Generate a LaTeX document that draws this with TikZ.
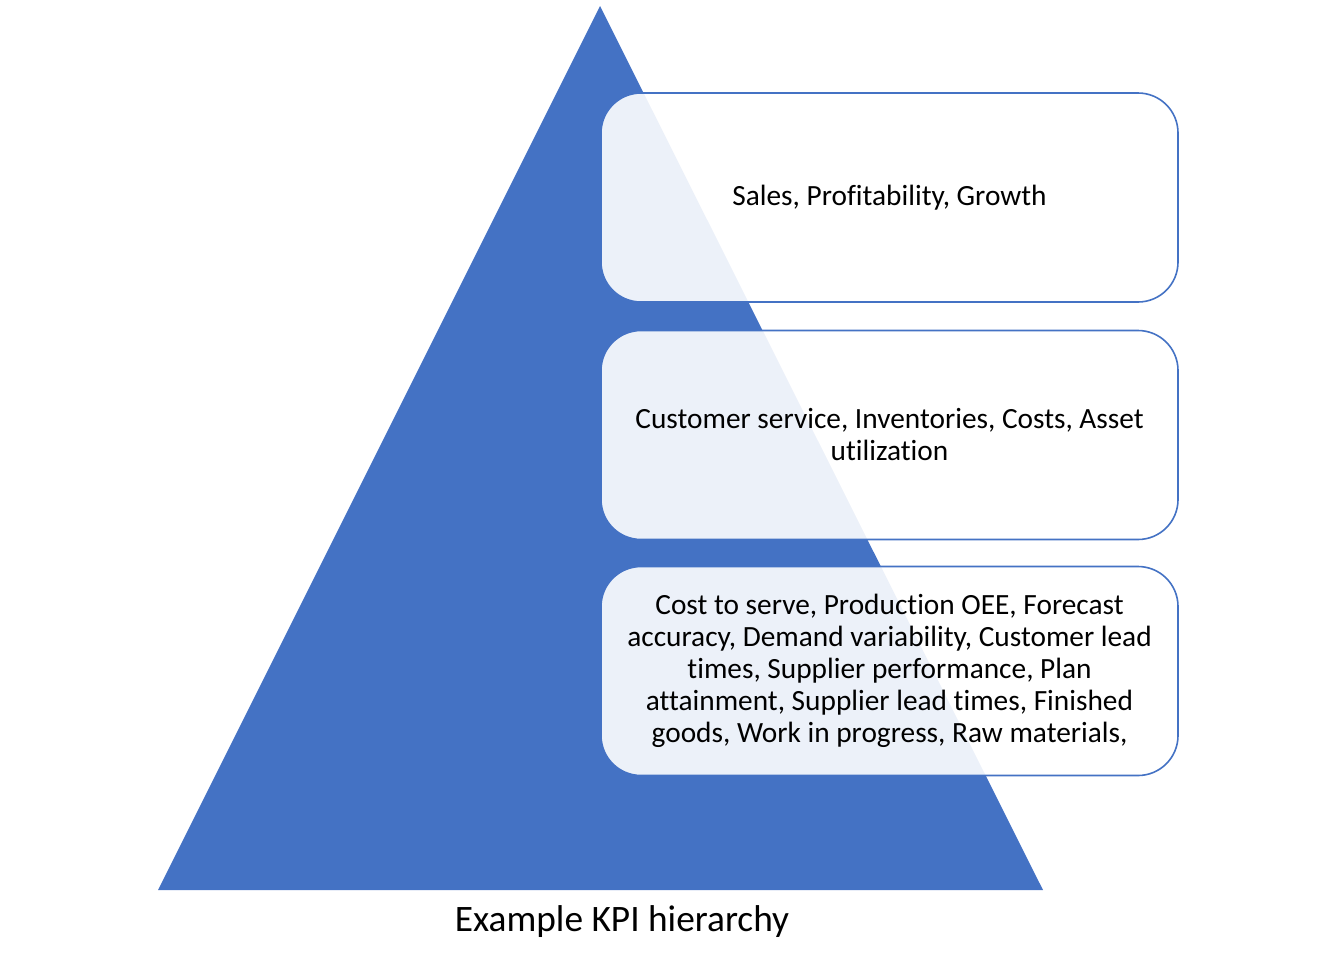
\documentclass[tikz,border=0pt]{standalone}
\usepackage{fontspec}
\setmainfont{Carlito}[Ligatures=NoCommon]
\usepackage{tikz}
\usetikzlibrary{calc}
\definecolor{kpiblue}{HTML}{4472C4}
\tikzset{
  kpibox/.style={draw=kpiblue,line width=1.2pt,fill=white,fill opacity=.9,text opacity=1,
    rounded corners=30pt,minimum width=432.75pt,minimum height=156.75pt,
    align=center,font=\fontsize{22}{24}\selectfont}
}

\begin{document}
\begin{tikzpicture}[x=0.75pt,y=-0.75pt]
  \useasboundingbox (0,0) rectangle (1334,968);
  % pyramid
  \coordinate (apex) at (600,6);
  \coordinate (baseL) at (158,890);
  \coordinate (baseR) at (1043,890);
  \fill[kpiblue] (apex) -- (baseR) -- (baseL) -- cycle;
  % levels
  \node[kpibox] (top) at (889.5,197.5) {Sales, Profitability, Growth};
  \node[kpibox] (mid) at (889.5,435) {Customer service, Inventories, Costs, Asset\\utilization};
  \node[kpibox] (low) at (889.5,671) {Cost to serve, Production OEE, Forecast\\accuracy, Demand variability, Customer lead\\times, Supplier performance, Plan\\attainment, Supplier lead times, Finished\\goods, Work in progress, Raw materials,};
  \node[font=\fontsize{28}{32}\selectfont] (title) at (622,922) {Example KPI hierarchy};
\end{tikzpicture}
\end{document}
